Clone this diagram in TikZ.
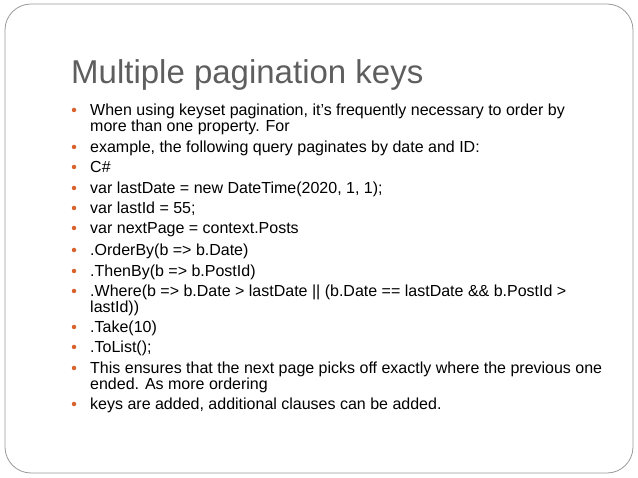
\documentclass[tikz,border=0pt]{standalone}
\usepackage{fontspec}
\setmainfont{Liberation Sans}
\begin{document}
\begin{tikzpicture}[x=1pt,y=-1pt,
  txt/.style={anchor=base west,inner sep=0pt,font=\fontsize{16}{16}\selectfont,text=black},
  bul/.style={circle,fill=bulorange,inner sep=0pt,minimum size=4.5pt}]
\definecolor{bulorange}{HTML}{D9622B}
\definecolor{titlegray}{HTML}{5E5E5E}
\useasboundingbox (0,0) rectangle (638,478);
\draw[gray!80,line width=0.8pt,rounded corners=26pt] (5,4) rectangle (633,473);
\node[anchor=base west,inner sep=0pt,font=\fontsize{33}{33}\selectfont,text=titlegray] (title) at (71,84) {Multiple pagination keys};
\foreach \y/\t/\n in {
 116/{When using keyset pagination, it's frequently necessary to order by}/a,
 153/{example, the following query paginates by date and ID:}/b,
 173/{C\#}/c,
 194/{var lastDate = new DateTime(2020, 1, 1);}/d,
 214/{var lastId = 55;}/e,
 234/{var nextPage = context.Posts}/f,
 256/{.OrderBy(b => b.Date)}/g,
 277/{.ThenBy(b => b.PostId)}/h,
 297/{.Where(b => b.Date > lastDate || (b.Date == lastDate \&\& b.PostId >}/i,
 333/{.Take(10)}/j,
 353/{.ToList();}/k,
 374/{This ensures that the next page picks off exactly where the previous one}/l,
 410/{keys are added, additional clauses can be added.}/m}{
  \node[txt] (t\n) at (90,\y) {\t};
  \node[bul] (b\n) at (74,\y-6) {};
}
\node[txt] (ti2) at (90,313) {lastId))};
\node[txt] (ta2) at (90,132) {more than one property. For};
\node[txt] (tl2) at (90,390) {ended. As more ordering};
\end{tikzpicture}
\end{document}
